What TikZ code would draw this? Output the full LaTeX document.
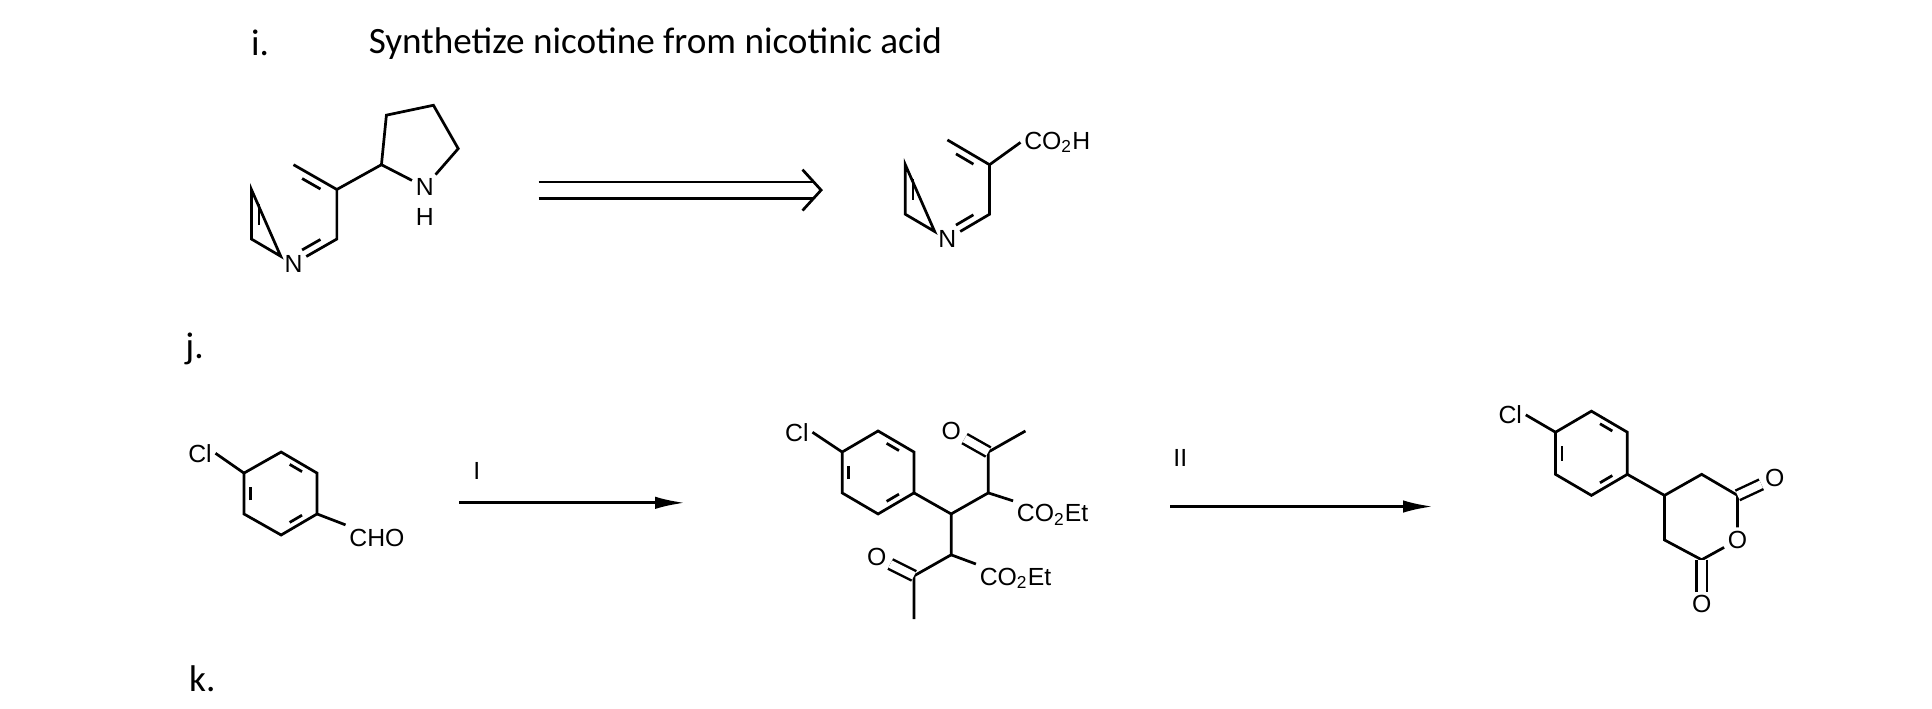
\documentclass[tikz,border=0pt]{standalone}
\usepackage{fontspec}
\setmainfont{Liberation Sans}
\newfontfamily\calib{Carlito}
\usetikzlibrary{calc,arrows.meta}
\begin{document}
\begin{tikzpicture}[x=0.5pt,y=-0.5pt,line width=1.1pt,
  bond/.style={line width=1.1pt},
  atm/.style={inner sep=1pt,font=\fontsize{10}{10}\selectfont},
  ttl/.style={anchor=west,font=\calib\fontsize{15}{15}\selectfont},
  dbo/.style={double,double distance=3.2pt,line width=1pt},
  arr/.style={line width=1.1pt,-{Latex[length=12pt,width=5pt]}}]
\useasboundingbox (0,0) rectangle (1560,572);
\newcommand\innerb[3]{\draw[bond,shorten <=4pt,shorten >=4pt] ($(#1)!0.18!(#3)$) -- ($(#2)!0.18!(#3)$);}
% titles
\node[ttl] (ti) at (195,35) {i.};
\node[ttl] (tt) at (290,35) {Synthetize nicotine from nicotinic acid};
\node[ttl] (tj) at (142,282) {j.};
\node[ttl] (tk) at (145,548) {k.};
% nicotine
\coordinate (a1) at (237,133); \coordinate (a2) at (272,153); \coordinate (a3) at (272,193);
\node[atm] (aN) at (237,213) {N}; \coordinate (a5) at (203,193); \coordinate (a6) at (203,153);
\coordinate (ac) at (237,173);
\draw (a1)--(a2)--(a3)--(aN)--(a5)--(a6)--cycle;
\innerb{a1}{a2}{ac}\innerb{a3}{aN}{ac}\innerb{a5}{a6}{ac}
\coordinate (p2) at (308,133); \coordinate (p3) at (312,93); \coordinate (p4) at (350,85); \coordinate (p5) at (370,120);
\node[atm] (pN) at (343,151) {N}; \node[atm] (pH) at (343,175) {H};
\draw (a2)--(p2)--(p3)--(p4)--(p5)--(pN)--(p2);
% retro arrow
\coordinate (r1) at (435,147); \coordinate (r2) at (657,147);
\coordinate (r3) at (435,160); \coordinate (r4) at (657,160);
\draw (r1)--(r2); \draw (r3)--(r4);
\coordinate (rh1) at (648,137); \coordinate (rh2) at (663,153.5); \coordinate (rh3) at (648,170);
\draw[line join=miter] (rh1)--(rh2)--(rh3);
% nicotinic acid
\coordinate (b1) at (765,113); \coordinate (b2) at (799,133); \coordinate (b3) at (799,173);
\node[atm] (bN) at (765,193) {N}; \coordinate (b5) at (731,173); \coordinate (b6) at (731,133);
\coordinate (bc) at (765,153);
\draw (b1)--(b2)--(b3)--(bN)--(b5)--(b6)--cycle;
\innerb{b1}{b2}{bc}\innerb{b3}{bN}{bc}\innerb{b5}{b6}{bc}
\node[atm,anchor=west] (bco) at (824,115) {CO\textsubscript{2}H};
\draw (b2)--(bco.west);
% 4-chlorobenzaldehyde
\coordinate (c1) at (227,365); \coordinate (c2) at (256,382); \coordinate (c3) at (256,415);
\coordinate (c4) at (227,432); \coordinate (c5) at (197,415); \coordinate (c6) at (197,382);
\coordinate (cc) at (227,398);
\draw (c1)--(c2)--(c3)--(c4)--(c5)--(c6)--cycle;
\innerb{c1}{c2}{cc}\innerb{c3}{c4}{cc}\innerb{c5}{c6}{cc}
\node[atm,anchor=east] (cCl) at (174,366) {Cl};
\draw (cCl.east)--(c6);
\node[atm,anchor=west] (cCHO) at (279,434) {CHO};
\draw (c3)--(cCHO.north west);
% arrow I
\node[atm] (lI) at (385,380) {I};
\coordinate (s1) at (371,406); \coordinate (s2) at (553,406);
\draw[arr] (s1)--(s2);
% middle compound
\coordinate (d1) at (709,348); \coordinate (d2) at (738,365); \coordinate (d3) at (738,398);
\coordinate (d4) at (709,415); \coordinate (d5) at (680,398); \coordinate (d6) at (680,365);
\coordinate (dc) at (709,381);
\draw (d1)--(d2)--(d3)--(d4)--(d5)--(d6)--cycle;
\innerb{d1}{d2}{dc}\innerb{d3}{d4}{dc}\innerb{d5}{d6}{dc}
\node[atm,anchor=east] (dCl) at (656,349) {Cl};
\draw (dCl.east)--(d6);
\coordinate (e1) at (768,415); \coordinate (e2) at (798,398); \coordinate (e3) at (798,365);
\node[atm] (eO) at (768,348) {O}; \coordinate (e4) at (828,348);
\draw (d3)--(e1)--(e2)--(e3)--(e4);
\draw[dbo] (e3)--(eO);
\node[atm,anchor=west] (eE) at (818,416) {CO\textsubscript{2}Et};
\draw (e2)--(eE.north west);
\coordinate (f1) at (768,448); \coordinate (f2) at (738,465);
\node[atm] (fO) at (708,450) {O}; \coordinate (f3) at (738,500);
\draw (e1)--(f1)--(f2)--(f3);
\draw[dbo] (f2)--(fO);
\node[atm,anchor=west] (fE) at (788,467) {CO\textsubscript{2}Et};
\draw (f1)--(fE.north west);
% arrow II
\node[atm] (lII) at (953,370) {II};
\coordinate (t1) at (945,409); \coordinate (t2) at (1157,409);
\draw[arr] (t1)--(t2);
% product
\coordinate (g1) at (1285,332); \coordinate (g2) at (1314,349); \coordinate (g3) at (1314,383);
\coordinate (g4) at (1285,400); \coordinate (g5) at (1256,383); \coordinate (g6) at (1256,349);
\coordinate (gc) at (1285,366);
\draw (g1)--(g2)--(g3)--(g4)--(g5)--(g6)--cycle;
\innerb{g1}{g2}{gc}\innerb{g3}{g4}{gc}\innerb{g5}{g6}{gc}
\node[atm,anchor=east] (gCl) at (1232,335) {Cl};
\draw (gCl.east)--(g6);
\coordinate (h1) at (1344,400); \coordinate (h2) at (1374,383); \coordinate (h3) at (1403,400);
\node[atm] (hO1) at (1433,386) {O}; \node[atm] (hO) at (1403,436) {O};
\coordinate (h5) at (1374,452); \node[atm] (hO2) at (1374,488) {O}; \coordinate (h6) at (1344,436);
\draw (g3)--(h1)--(h2)--(h3)--(hO)--(h5)--(h6)--(h1);
\draw[dbo] (h3)--(hO1);
\draw[dbo] (h5)--(hO2);
\end{tikzpicture}
\end{document}
